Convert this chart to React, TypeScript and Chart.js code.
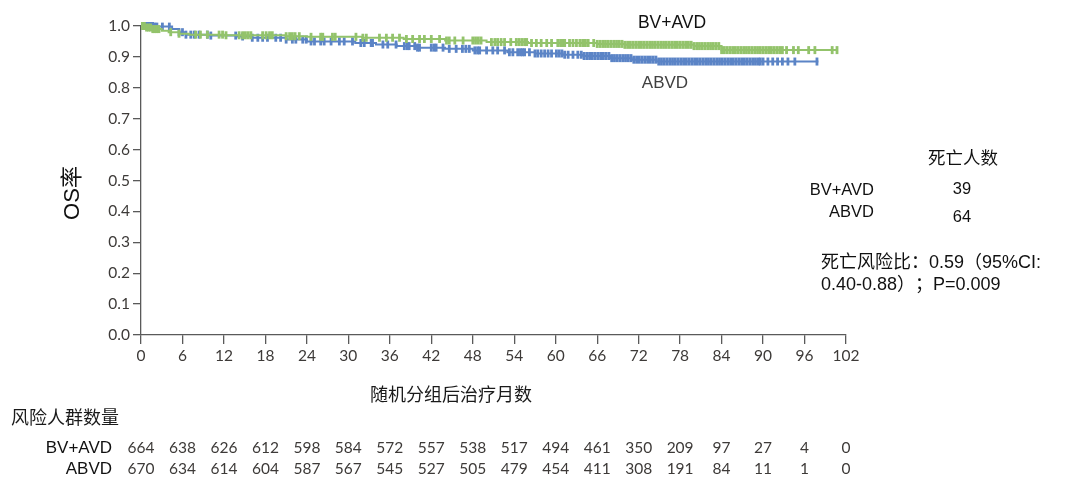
import { useEffect, useRef } from 'react'
import { Chart, registerables, type ChartConfiguration, type Plugin } from 'chart.js'

Chart.register(...registerables)

// x ticks (months) — also the columns of the at-risk table
const monthTicks = [0, 6, 12, 18, 24, 30, 36, 42, 48, 54, 60, 66, 72, 78, 84, 90, 96, 102]
const riskBV = [664, 638, 626, 612, 598, 584, 572, 557, 538, 517, 494, 461, 350, 209, 97, 27, 4, 0]
const riskABVD = [670, 634, 614, 604, 587, 567, 545, 527, 505, 479, 454, 411, 308, 191, 84, 11, 1, 0]

// Kaplan-Meier steps: time (months) and survival after the step
const bvTimes = [0, 0.8, 1.5, 3, 4, 5.5, 7, 12, 21, 24, 32, 38, 44, 50, 56, 66, 70, 80, 84, 100.7]
const bvSurv = [1, 0.995, 0.99, 0.985, 0.98, 0.975, 0.972, 0.97, 0.967, 0.965, 0.962, 0.958, 0.953, 0.948, 0.945, 0.942, 0.939, 0.935, 0.922, 0.922]

const abvdTimes = [0, 2, 4.5, 5.5, 6.5, 10, 14, 16, 21, 24, 31, 34, 37, 40, 44, 48, 53, 57, 61, 64, 68, 71, 74.6, 98]
const abvdSurv = [1, 0.998, 0.99, 0.98, 0.972, 0.969, 0.966, 0.962, 0.956, 0.95, 0.945, 0.94, 0.935, 0.93, 0.926, 0.921, 0.915, 0.911, 0.907, 0.903, 0.896, 0.891, 0.885, 0.885]

// censored observations (months)
const bvCensor = [
  0.2, 0.5, 0.8, 1.1, 1.4, 1.7, 2.0, 2.3, 2.6, 4.3, 5.5, 7.9, 8.6, 9.6, 11.3, 11.8, 12.3, 14.2, 14.7, 15.1, 15.5, 15.9,
  17.6, 18.1, 18.6, 19.0, 21.0, 21.5, 21.9, 22.3, 22.9, 24.6, 26.0, 26.3, 27.7, 28.1, 31.1, 32.1, 32.6, 34.5, 35.5,
  36.4, 37.4, 38.4, 39.3, 40.3, 41.0, 42.0, 43.2, 44.2, 44.6, 45.4, 46.6, 48.0, 48.4, 48.8, 49.2, 50.7, 51.2, 51.6,
  52.1, 52.6, 53.5, 54.3, 54.7, 55.1, 55.5, 55.8, 56.5, 57.2, 57.9, 58.7, 59.4, 60.3, 60.7, 61.0, 61.3, 62.0, 62.5,
  63.0, 63.5, 63.9, 64.3, 64.7, 65.5, 66.0, 66.4, 66.8, 67.2, 67.6, 68.0, 68.4, 68.8, 69.2, 69.6, 70.0, 70.4, 70.8,
  71.2, 71.6, 72.0, 72.4, 72.8, 73.2, 73.6, 74.0, 74.4, 74.8, 75.2, 75.6, 76.0, 76.4, 76.8, 77.2, 77.6, 78.0, 78.4,
  78.8, 79.2, 79.6, 80.0, 80.4, 80.8, 81.2, 81.6, 82.0, 82.4, 82.8, 83.2, 83.6, 84.0, 84.4, 84.8, 85.2, 85.6, 86.0,
  86.4, 86.8, 87.2, 87.6, 88.0, 88.4, 88.8, 89.2, 89.6, 90.0, 90.4, 90.8, 91.2, 91.6, 92.0, 92.4, 92.8, 93.4, 94.4,
  95.1, 96.6, 97.5, 100.0, 100.7,
]
const abvdCensor = [
  0.2, 0.5, 0.8, 1.1, 1.4, 1.7, 2.0, 2.3, 3.1, 4.1, 5.5, 6.0, 6.5, 7.2, 7.7, 8.4, 9.6, 10.1, 13.7, 14.7, 16.1, 16.9,
  17.6, 18.3, 19.5, 20.2, 21.0, 21.9, 22.4, 23.4, 23.9, 24.6, 25.1, 26.0, 26.5, 27.5, 28.7, 29.4, 30.6, 31.8, 32.3,
  33.3, 33.5, 35.0, 35.7, 36.9, 38.1, 38.5, 38.8, 39.6, 40.0, 40.3, 42.0, 42.4, 42.7, 43.7, 44.6, 45.6, 46.5, 47.0,
  47.5, 48.3, 48.7, 49.0, 50.0, 50.9, 51.6, 52.6, 53.3, 53.8, 54.5, 54.9, 55.2, 55.5, 56.2, 57.0, 57.4, 57.9, 58.4,
  58.9, 59.4, 60.1, 60.5, 60.9, 61.3, 61.8, 62.5, 63.2, 63.7, 64.1, 64.5, 64.9, 65.3, 65.7, 66.1, 66.5, 66.9, 67.3,
  67.7, 68.1, 68.5, 68.9, 69.3, 69.7, 70.1, 70.5, 70.9, 71.3, 71.7, 72.1, 72.5, 72.9, 73.3, 73.7, 74.1, 74.5, 74.9,
  75.3, 75.7, 76.1, 76.5, 76.9, 77.3, 77.7, 78.1, 78.5, 78.9, 79.3, 79.7, 80.1, 80.5, 80.9, 81.3, 81.7, 82.1, 82.5,
  82.9, 83.3, 83.7, 84.1, 84.5, 84.9, 85.3, 85.7, 86.1, 86.5, 86.9, 87.3, 87.7, 88.1, 88.5, 88.9, 89.3, 89.6, 90.0,
  90.7, 91.4, 92.1, 92.8, 93.6, 94.6, 97.8,
]

const deathsBV = 39
const deathsABVD = 64

const GREEN = '#93c36b'
const BLUE = '#5b84c6'
const AXIS = '#5a5a5a'
const NUM = '#3d3a38'
const SANS = '"Liberation Sans", Arial, "Noto Sans CJK SC", sans-serif'

function stepAt(times: number[], surv: number[], t: number) {
  let v = surv[0]
  for (let i = 0; i < times.length; i++) {
    if (times[i] <= t) v = surv[i]
  }
  return v
}

const textPlugin: Plugin<'line'> = {
  id: 'kmText',
  afterDraw(chart) {
    const ctx = chart.ctx
    const xs = chart.scales.x
    ctx.save()
    ctx.textBaseline = 'middle'

    // y title
    ctx.save()
    ctx.translate(73, 193)
    ctx.rotate(-Math.PI / 2)
    ctx.fillStyle = '#111'
    ctx.font = `22px ${SANS}`
    ctx.textAlign = 'center'
    ctx.fillText('OS率', 0, 0)
    ctx.restore()

    // x title
    ctx.fillStyle = '#1a1a1a'
    ctx.font = `18px ${SANS}`
    ctx.textAlign = 'center'
    ctx.fillText('随机分组后治疗月数', 451, 396)

    // at-risk table
    ctx.textAlign = 'left'
    ctx.fillText('风险人群数量', 11, 419)
    ctx.textAlign = 'right'
    ctx.font = `17px ${SANS}`
    ctx.fillStyle = '#111'
    ctx.fillText('BV+AVD', 112, 448)
    ctx.fillText('ABVD', 112, 469)
    ctx.font = '15.5px Lato, sans-serif'
    ctx.fillStyle = NUM
    ctx.textAlign = 'center'
    monthTicks.forEach((m, i) => {
      const x = xs.getPixelForValue(m)
      ctx.fillText(String(riskBV[i]), x, 448)
      ctx.fillText(String(riskABVD[i]), x, 469)
    })

    // curve labels
    ctx.font = `17.5px ${SANS}`
    ctx.fillStyle = '#111'
    ctx.fillText('BV+AVD', 672, 23)
    ctx.fillStyle = '#404040'
    ctx.font = `17px ${SANS}`
    ctx.fillText('ABVD', 665, 83)

    // deaths box
    ctx.fillStyle = '#111'
    ctx.font = `17.5px ${SANS}`
    ctx.fillText('死亡人数', 963, 159)
    ctx.font = `16.5px ${SANS}`
    ctx.textAlign = 'right'
    ctx.fillText('BV+AVD', 874, 190)
    ctx.fillText('ABVD', 874, 212)
    ctx.textAlign = 'center'
    ctx.fillText(String(deathsBV), 962, 189)
    ctx.fillText(String(deathsABVD), 962, 217)

    ctx.textAlign = 'left'
    ctx.font = `18px ${SANS}`
    ctx.fillText('死亡风险比：0.59（95%CI:', 821, 263)
    ctx.fillText('0.40-0.88）；P=0.009', 821, 285)
    ctx.restore()
  },
}

export default function App() {
  const canvasRef = useRef<HTMLCanvasElement | null>(null)
  const chartRef = useRef<Chart<'line'> | null>(null)

  useEffect(() => {
    const canvas = canvasRef.current
    if (!canvas) return
    chartRef.current?.destroy()

    const censorStyle = {
      showLine: false,
      pointStyle: 'line' as const,
      pointRotation: 90,
      pointRadius: 4,
      pointHoverRadius: 4,
      pointBorderWidth: 2.8,
      clip: false as const,
    }

    const config: ChartConfiguration<'line'> = {
      type: 'line',
      data: {
        datasets: [
          {
            label: 'BV+AVD',
            data: bvTimes.map((t, i) => ({ x: t, y: bvSurv[i] })),
            borderColor: GREEN,
            borderWidth: 2,
            stepped: 'before',
            pointRadius: 0,
            clip: false,
            order: 1,
          },
          {
            label: 'BV+AVD censored',
            data: bvCensor.map((t) => ({ x: t, y: stepAt(bvTimes, bvSurv, t) })),
            borderColor: GREEN,
            backgroundColor: GREEN,
            ...censorStyle,
            order: 0,
          },
          {
            label: 'ABVD',
            data: abvdTimes.map((t, i) => ({ x: t, y: abvdSurv[i] })),
            borderColor: BLUE,
            borderWidth: 2,
            stepped: 'before',
            pointRadius: 0,
            clip: false,
            order: 3,
          },
          {
            label: 'ABVD censored',
            data: abvdCensor.map((t) => ({ x: t, y: stepAt(abvdTimes, abvdSurv, t) })),
            borderColor: BLUE,
            backgroundColor: BLUE,
            ...censorStyle,
            order: 2,
          },
        ],
      },
      options: {
        animation: false,
        responsive: true,
        maintainAspectRatio: false,
        layout: { padding: { left: 0, top: 26, right: 234, bottom: 126 } },
        plugins: { legend: { display: false }, tooltip: { enabled: false } },
        scales: {
          x: {
            type: 'linear',
            min: 0,
            max: 102,
            afterFit: (scale) => {
              scale.height = 30
            },
            border: { color: AXIS, width: 1.3 },
            grid: { drawOnChartArea: false, drawTicks: true, tickLength: 9, color: AXIS, lineWidth: 1.3 },
            ticks: {
              stepSize: 6,
              padding: 3,
              color: NUM,
              font: { family: 'Lato', size: 15.5 },
              maxRotation: 0,
              autoSkip: false,
            },
          },
          y: {
            type: 'linear',
            min: 0,
            max: 1,
            afterFit: (scale) => {
              scale.width = 141
            },
            border: { color: AXIS, width: 1.3 },
            grid: { drawOnChartArea: false, drawTicks: true, tickLength: 8, color: AXIS, lineWidth: 1.3 },
            ticks: {
              stepSize: 0.1,
              padding: 3,
              color: NUM,
              font: { family: 'Lato', size: 15.5 },
              callback: (v) => Number(v).toFixed(1),
            },
          },
        },
      },
      plugins: [textPlugin],
    }

    chartRef.current = new Chart(canvas, config)
    return () => {
      chartRef.current?.destroy()
      chartRef.current = null
    }
  }, [])

  return (
    <div style={{ position: 'fixed', left: 0, top: 0, width: 1080, height: 491, background: '#fff' }}>
      <canvas ref={canvasRef} role="img" aria-label="BV+AVD 与 ABVD 总生存曲线" />
    </div>
  )
}
